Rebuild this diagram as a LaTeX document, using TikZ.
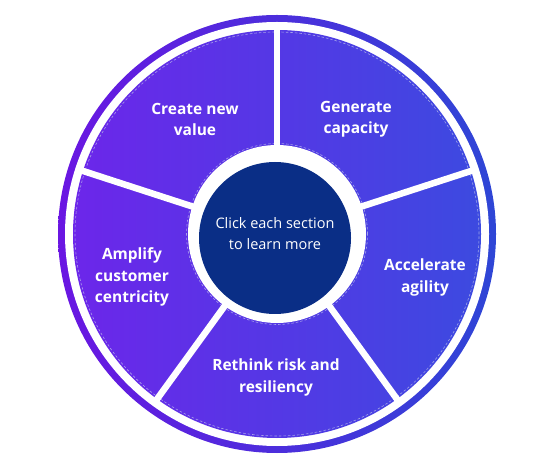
\documentclass[tikz,border=0pt]{standalone}
\usepackage{fontspec}
\setmainfont{Open Sans}
\definecolor{ringL}{RGB}{106,22,226}
\definecolor{ringR}{RGB}{46,70,214}
\definecolor{segL}{RGB}{108,38,234}
\definecolor{segR}{RGB}{60,74,224}
\definecolor{navy}{RGB}{10,46,134}
\definecolor{dashc}{RGB}{200,205,235}
\tikzset{
  seglabel/.style={text=white, font=\bfseries\fontsize{15.5}{21.5}\selectfont, align=center},
  centerlabel/.style={text=white, font=\fontsize{14.5}{21}\selectfont, align=center},
  gapline/.style={white, line width=6.5pt},
  faintdash/.style={dashc, dashed, line width=0.6pt, dash pattern=on 2.5pt off 2pt, opacity=0.7}
}
\begin{document}
\begin{tikzpicture}[x=1pt,y=1pt]
\useasboundingbox (0,0) rectangle (553,468);
\coordinate (c) at (277,234);
\coordinate (d) at (275,230);
\shade[left color=ringL, right color=ringR] (c) circle (219);
\fill[white] (c) circle (212);
\shade[left color=segL, right color=segR] (c) circle (204);
\draw[faintdash] (c) circle (202);
\fill[white] (c) circle (89);
\draw[faintdash] (c) circle (90.5);
\foreach \a in {90,18,-54,-126,162}
  \draw[gapline] (c) ++(\a:80) -- ++(\a:130);
\fill[navy] (d) circle (76);
\node[centerlabel] (center) at (275,234.5) {Click each section\\to learn more};
\node[seglabel] (create) at (195,348.5) {Create new\\value};
\node[seglabel] (generate) at (356,348.5) {Generate\\capacity};
\node[seglabel] (accel) at (425,190.5) {Accelerate\\agility};
\node[seglabel] (rethink) at (276,90.5) {Rethink risk and\\resiliency};
\node[seglabel] (amplify) at (132,191) {Amplify\\customer\\centricity};
\end{tikzpicture}
\end{document}
